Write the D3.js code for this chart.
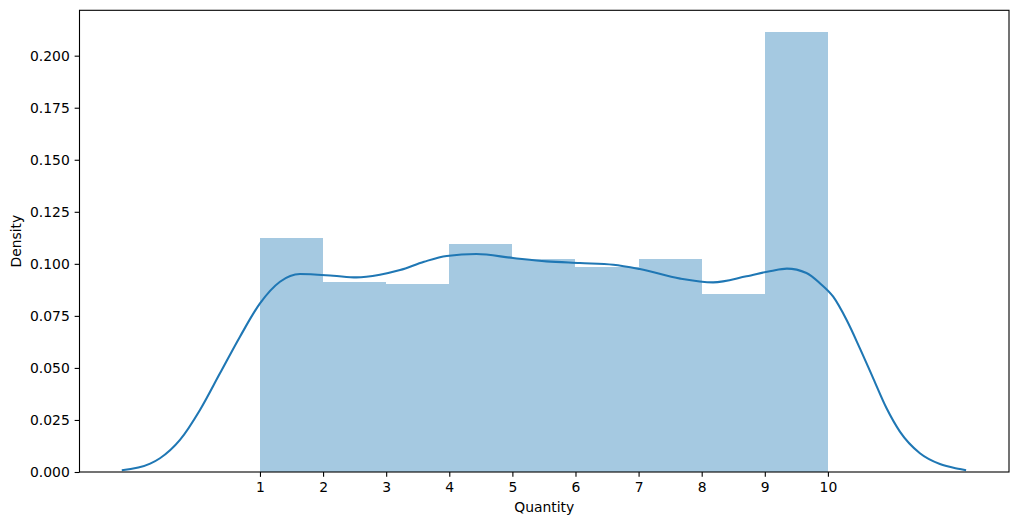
<!DOCTYPE html>
<html>
<head>
<meta charset="utf-8">
<script src="https://cdn.jsdelivr.net/npm/d3@7"></script>
<style>
  body { margin: 0; background: #fff; }
  text { font-family: "DejaVu Sans", sans-serif; }
</style>
</head>
<body>
<svg></svg>
<script>
// histogram bins (width 1) and their density
let binLeft = [1, 2, 3, 4, 5, 6, 7, 8, 9]
let binRight = [2, 3, 4, 5, 6, 7, 8, 9, 10]
let binDensity = [0.1124, 0.0913, 0.0903, 0.1095, 0.1023, 0.0986, 0.1023, 0.0857, 0.2114]

// kde curve
let kdeX = [-1.19, -0.74, -0.585, -0.268, 0.049, 0.366, 0.683, 1.0, 1.317, 1.634, 2.16, 2.53, 2.90, 3.22, 3.6,
            3.96, 4.43, 5.01, 5.54, 6.07, 6.60, 7.02, 7.66, 8.18, 8.71, 9.1, 9.35, 9.66, 9.873, 10.084, 10.297,
            10.507, 10.718, 10.93, 11.141, 11.458, 11.775, 12.092, 12.19]
let kdeY = [0.0008, 0.0040, 0.0066, 0.0154, 0.0298, 0.0474, 0.0650, 0.0810, 0.0914, 0.0951, 0.0943, 0.0935, 0.0948, 0.0970, 0.1010,
            0.1038, 0.1047, 0.1028, 0.1012, 0.1004, 0.0996, 0.0975, 0.0929, 0.0911, 0.0940, 0.0966, 0.0977, 0.0956, 0.0907, 0.0842, 0.0730,
            0.0594, 0.0450, 0.0306, 0.0194, 0.0090, 0.0038, 0.0014, 0.0008]

let xTicks = [1, 2, 3, 4, 5, 6, 7, 8, 9, 10]
let yTicks = [0, 0.025, 0.05, 0.075, 0.1, 0.125, 0.15, 0.175, 0.2]

let svgWidth = 1019,
    svgHeight = 525,
    margin = {left: 79.5, top: 10.3, right: 10, bottom: 53},
    width = svgWidth - margin.left - margin.right,
    height = svgHeight - margin.top - margin.bottom

let blue = '#1f77b4'

let svg = d3.select('svg')
    .attr('width', svgWidth)
    .attr('height', svgHeight)

let g = svg.append('g')
    .attr('transform', `translate(${margin.left}, ${margin.top})`)

let x = d3.scaleLinear().domain([-1.86, 12.87]).range([0, width])
let y = d3.scaleLinear().domain([0, 0.2218]).range([height, 0])

// bars
g.selectAll('rect.bar')
    .data(binDensity)
    .enter()
    .append('rect')
    .attr('class', 'bar')
    .attr('x', (d, i) => x(binLeft[i]))
    .attr('width', (d, i) => x(binRight[i]) - x(binLeft[i]))
    .attr('y', d => y(d))
    .attr('height', d => height - y(d))
    .attr('fill', blue)
    .attr('fill-opacity', 0.4)
    .attr('shape-rendering', 'crispEdges')

// kde line
let line = d3.line()
    .x((d, i) => x(kdeX[i]))
    .y(d => y(d))
    .curve(d3.curveMonotoneX)

g.append('path')
    .attr('d', line(kdeY))
    .attr('fill', 'none')
    .attr('stroke', blue)
    .attr('stroke-width', 2.08)

// axes
let xAxis = g.append('g')
    .attr('transform', `translate(0, ${height})`)
    .call(d3.axisBottom(x).tickValues(xTicks).tickFormat(d3.format('d'))
        .tickSize(4.86).tickSizeOuter(0).tickPadding(4.86))

let yAxis = g.append('g')
    .call(d3.axisLeft(y).tickValues(yTicks).tickFormat(d3.format('.3f'))
        .tickSize(4.86).tickSizeOuter(0).tickPadding(4.86))

for (let ax of [xAxis, yAxis]) {
    ax.select('.domain').remove()
    ax.selectAll('line').attr('stroke', '#000').attr('stroke-width', 1.1)
    ax.selectAll('text')
        .attr('fill', '#000')
        .style('font-size', '13.9px')
        .style('font-family', '"DejaVu Sans", sans-serif')
}

// frame
g.append('rect')
    .attr('width', width)
    .attr('height', height)
    .attr('fill', 'none')
    .attr('stroke', '#000')
    .attr('stroke-width', 1.1)

// labels
svg.append('text')
    .attr('x', margin.left + width / 2)
    .attr('y', 512)
    .attr('text-anchor', 'middle')
    .style('font-size', '13.9px')
    .text('Quantity')

svg.append('text')
    .attr('transform', `translate(21, ${margin.top + height / 2}) rotate(-90)`)
    .attr('text-anchor', 'middle')
    .style('font-size', '13.9px')
    .text('Density')
</script>
</body>
</html>
